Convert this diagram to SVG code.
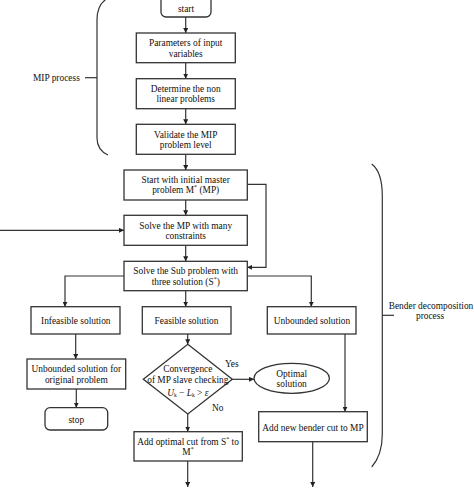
<svg xmlns="http://www.w3.org/2000/svg" width="474" height="488" viewBox="0 0 474 488">
<defs>
<marker id="ah" viewBox="0 0 10 10" refX="10" refY="5" markerWidth="5" markerHeight="5" orient="auto" markerUnits="userSpaceOnUse">
<path d="M0,0 L10,5 L0,10 z" fill="#222"/>
</marker>
<style>
.box{fill:#fff;stroke:#333;stroke-width:1.3}
.t{font-family:"Liberation Serif","Times New Roman",serif;font-size:9.4px;fill:#111;text-anchor:middle}
.tl{font-family:"Liberation Serif","Times New Roman",serif;font-size:9.4px;fill:#111}
.c{fill:none;stroke:#333;stroke-width:1.2}
.a{marker-end:url(#ah)}
.sup{font-size:6px}
</style>
</defs>
<rect width="474" height="488" fill="#fff"/>

<g id="connectors">
<path class="c a" d="M185.7,17 V33"/>
<path class="c a" d="M185.7,62.7 V78.7"/>
<path class="c a" d="M185.7,108.7 V124.3"/>
<path class="c a" d="M185.7,154.3 V170"/>
<path class="c a" d="M185.7,200 V215.3"/>
<path class="c a" d="M185.7,245.3 V261.3"/>
<path class="c a" d="M247.3,184.3 H266 V267.3 H247.3"/>
<path class="c a" d="M0,230.3 H124"/>
<path class="c a" d="M124,276 H65 V306.7"/>
<path class="c a" d="M185.7,290.7 V306.7"/>
<path class="c a" d="M247.3,276 H311.3 V306.7"/>
<path class="c a" d="M75.7,333.7 V359"/>
<path class="c a" d="M76.3,389 V407.7"/>
<path class="c a" d="M187.7,333.7 V344.3"/>
<path class="c a" d="M232.3,379.3 H254"/>
<path class="c a" d="M187.7,414 V431.7"/>
<path class="c a" d="M187.7,461 V487"/>
<path class="c a" d="M345,334 V411.7"/>
<path class="c a" d="M312.7,441.7 V487"/>
</g>

<g id="mip-brace">
<path class="c" d="M108,-2 Q97,4 97,20 V138 Q97,150 108,155"/>
<path class="c" d="M85,77.7 H97"/>
<text class="tl" x="33" y="81.2">MIP process</text>
</g>

<g id="bender-brace">
<path class="c" d="M371.7,164 Q382.3,172 382.3,196 V434 Q382.3,455 371.7,467"/>
<path class="c" d="M382.3,315.3 H394"/>
<text class="t" x="431" y="308.9">Bender decomposition</text>
<text class="t" x="430" y="318.9">process</text>
</g>

<g id="start">
<rect class="box" x="161" y="-6" width="50" height="23" rx="5"/>
<text class="t" x="186" y="12.2">start</text>
</g>

<g id="params">
<rect class="box" x="136.3" y="33" width="99" height="29.7"/>
<text class="t" x="185.7" y="45.9">Parameters of input</text>
<text class="t" x="185.7" y="56.5">variables</text>
</g>

<g id="determine">
<rect class="box" x="136.3" y="78.7" width="99" height="30"/>
<text class="t" x="185.7" y="91.9">Determine the non</text>
<text class="t" x="185.7" y="102.2">linear problems</text>
</g>

<g id="validate">
<rect class="box" x="136.3" y="124.3" width="99" height="30"/>
<text class="t" x="185.7" y="137.9">Validate the MIP</text>
<text class="t" x="185.7" y="148.2">problem level</text>
</g>

<g id="master">
<rect class="box" x="124" y="170" width="123.3" height="30"/>
<text class="t" x="185.7" y="182.5">Start with initial master</text>
<text class="t" x="185.7" y="192.5">problem M<tspan class="sup" dy="-4">*</tspan><tspan dy="4"> (MP)</tspan></text>
</g>

<g id="solve-mp">
<rect class="box" x="124" y="215.3" width="123.3" height="30"/>
<text class="t" x="185.7" y="228.5">Solve the MP with many</text>
<text class="t" x="185.7" y="239.2">constraints</text>
</g>

<g id="solve-sub">
<rect class="box" x="124" y="261.3" width="123.3" height="29.4"/>
<text class="t" x="185.7" y="274.2">Solve the Sub problem with</text>
<text class="t" x="185.7" y="285.2">three solution (S<tspan class="sup" dy="-4">*</tspan><tspan dy="4">)</tspan></text>
</g>

<g id="infeasible">
<rect class="box" x="31" y="306.7" width="89" height="27.3"/>
<text class="t" x="75.8" y="323.9">Infeasible solution</text>
</g>

<g id="feasible">
<rect class="box" x="142.3" y="306.7" width="88.7" height="27.3"/>
<text class="t" x="186.5" y="323.9">Feasible solution</text>
</g>

<g id="unbounded">
<rect class="box" x="267.3" y="306.7" width="88.7" height="27.3"/>
<text class="t" x="312" y="323.9">Unbounded solution</text>
</g>

<g id="unbounded-original">
<rect class="box" x="27" y="359" width="98.7" height="30"/>
<text class="t" x="76.3" y="372.2">Unbounded solution for</text>
<text class="t" x="76.3" y="383.2">original problem</text>
</g>

<g id="stop">
<rect class="box" x="45" y="407.7" width="62.7" height="22.3" rx="5"/>
<text class="t" x="76.3" y="423.2">stop</text>
</g>

<g id="convergence">
<path class="box" d="M187.8,344.3 L232.3,379.3 L187.8,414 L143.3,379.3 Z"/>
<text class="t" x="187.8" y="372.2">Convergence</text>
<text class="t" x="187.8" y="383.2">of MP slave checking</text>
<text class="t" x="187.8" y="395.5" font-size="8.5px"><tspan font-style="italic">U</tspan><tspan font-size="5.5px" dy="1.5">k</tspan><tspan dy="-1.5"> − </tspan><tspan font-style="italic">L</tspan><tspan font-size="5.5px" dy="1.5">k</tspan><tspan dy="-1.5"> &gt; </tspan><tspan font-style="italic">ε</tspan></text>
<text class="tl" x="225" y="366.5">Yes</text>
<text class="tl" x="212" y="411">No</text>
</g>

<g id="optimal">
<ellipse class="box" cx="291.7" cy="378.3" rx="37.7" ry="15"/>
<text class="t" x="291.7" y="377.2">Optimal</text>
<text class="t" x="291.7" y="387.2">solution</text>
</g>

<g id="bender-cut">
<rect class="box" x="258.7" y="411.7" width="108.6" height="30"/>
<text class="t" x="313" y="430.9">Add new bender cut to MP</text>
</g>

<g id="optimal-cut">
<rect class="box" x="134" y="431.7" width="108.3" height="29.3"/>
<text class="t" x="188" y="444.9">Add optimal cut from S<tspan class="sup" dy="-4">*</tspan><tspan dy="4"> to</tspan></text>
<text class="t" x="188" y="454.9">M<tspan class="sup" dy="-4">*</tspan></text>
</g>
</svg>
